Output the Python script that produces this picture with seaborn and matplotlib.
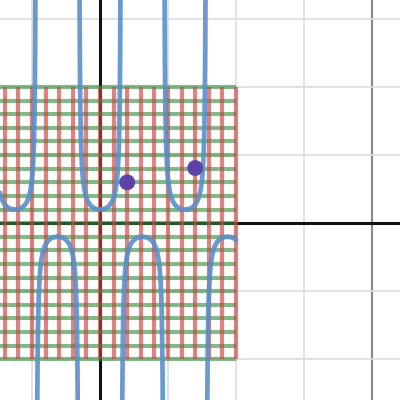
import numpy as np
import matplotlib.pyplot as plt
import seaborn as sns

sns.set_theme(style="white")

# view window (graph units)
x_range = [-1.47, 4.41]
y_range = [-2.60, 3.28]

# red / green mesh inside square [-1.47, 2] x [-2, 2]
red_x = np.round(np.arange(-1.4, 2.01, 0.2), 2)
green_y = np.round(np.arange(-2.0, 2.01, 0.2), 2)

# curve y = a * sec(2*pi*x / period)
amp = 0.2
period = 1.25

# purple points
pts_x = [0.4, 1.4]
pts_y = [0.6, 0.81]

fig = plt.figure(figsize=(4, 4), dpi=100)
ax = fig.add_axes([0, 0, 1, 1])
ax.set_xlim(x_range)
ax.set_ylim(y_range)
ax.axis("off")

# background grid
for gx in range(-1, 5):
    ax.axvline(gx, color="#888888" if gx == 4 else "#dddddd", lw=1.5 if gx == 4 else 1.2, zorder=0)
for gy in range(-2, 4):
    ax.axhline(gy, color="#dddddd", lw=1.2, zorder=0)
ax.axhline(0, color="#111111", lw=2.2, zorder=1)
ax.axvline(0, color="#111111", lw=2.2, zorder=1)

for gy in green_y:
    ax.plot([x_range[0], 2], [gy, gy], color="#2e8b3a", alpha=0.6, lw=3.0, zorder=2,
            solid_capstyle="butt")
for gx in red_x:
    ax.plot([gx, gx], [-2, 2], color="#c74440", alpha=0.65, lw=3.0, zorder=3,
            solid_capstyle="butt")

# sec curve, split at asymptotes
k = np.arange(-4, 5)
asym = (k + 0.5) * period / 2
edges = np.concatenate([[x_range[0]], asym[(asym > x_range[0]) & (asym < 2)], [2.0]])
for a, b in zip(edges[:-1], edges[1:]):
    xs = np.linspace(a + 1e-4, b - 1e-4, 800)
    ys = amp / np.cos(2 * np.pi * xs / period)
    ys[np.abs(ys) > 10] = np.nan
    sns.lineplot(x=xs, y=ys, ax=ax, color="#5b8fc9", alpha=0.9, lw=3.4, zorder=4, sort=False)

sns.scatterplot(x=pts_x, y=pts_y, ax=ax, color="#6042a6", s=130, edgecolor="none", zorder=5)

fig.savefig("out.png", dpi=100)
